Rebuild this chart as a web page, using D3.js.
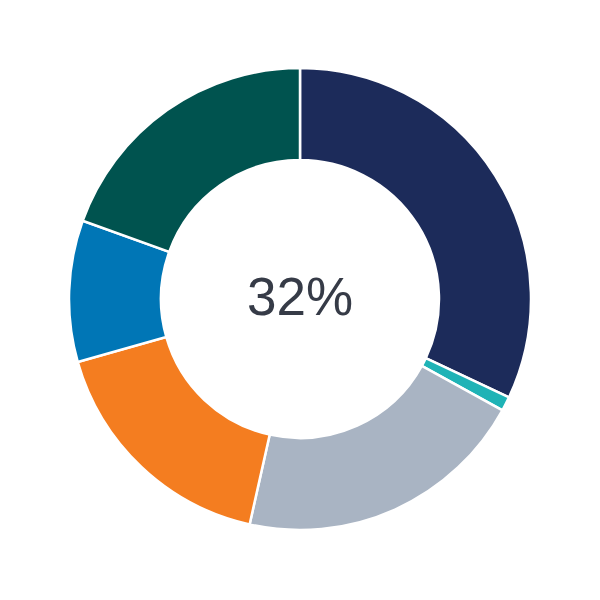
<!DOCTYPE html>
<html>
<head>
<meta charset="utf-8">
<script src="https://cdn.jsdelivr.net/npm/d3@7"></script>
<style>
  body { margin: 0; background: #fff; }
</style>
</head>
<body>
<div id="chart"></div>
<script>
// slices, clockwise from 12 o'clock
const categories = ["A", "B", "C", "D", "E", "F"];
const values = [32, 1, 20.5, 17.1, 9.9, 19.5];
const colors = ["#1c2b5a", "#1fb3b6", "#a9b4c3", "#f47d20", "#0076b6", "#00534f"];
const centerLabel = "32%";

const width = 600, height = 600;
const cx = 300, cy = 299;
const outerR = 231, innerR = 139;

const svg = d3.select("#chart")
  .append("svg")
  .attr("width", width)
  .attr("height", height);

const g = svg.append("g")
  .attr("transform", `translate(${cx}, ${cy})`);

const pie = d3.pie()
  .sort(null)
  .value((d) => d.value);

const arc = d3.arc()
  .innerRadius(innerR)
  .outerRadius(outerR);

const data = categories.map((c, i) => ({ name: c, value: values[i], color: colors[i] }));

g.selectAll("path")
  .data(pie(data))
  .enter()
  .append("path")
  .attr("d", arc)
  .attr("fill", (d) => d.data.color)
  .attr("stroke", "#fff")
  .attr("stroke-width", 2.5);

g.append("text")
  .attr("x", 0)
  .attr("y", 16)
  .attr("text-anchor", "middle")
  .attr("font-family", "Liberation Sans, Arial, sans-serif")
  .attr("font-size", "53px")
  .attr("fill", "#363b47")
  .text(centerLabel);
</script>
</body>
</html>
